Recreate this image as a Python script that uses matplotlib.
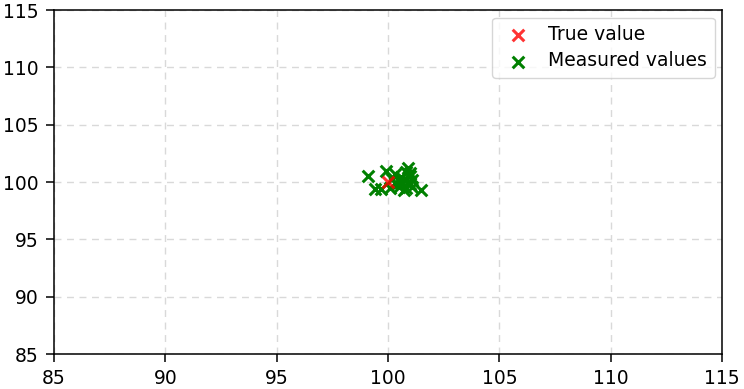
import matplotlib
matplotlib.use("Agg")
import matplotlib.pyplot as plt

true_x = [100.0]
true_y = [100.0]

meas_x = [99.1, 99.4, 99.9, 100.1, 100.3, 100.5, 100.5, 100.6, 100.7, 100.8,
          100.9, 101.0, 101.0, 101.1, 101.5, 100.4, 100.9, 100.2, 101.1, 100.6,
          99.7, 100.8, 100.3, 101.0]
meas_y = [100.5, 99.4, 101.0, 99.5, 100.7, 100.2, 99.6, 100.4, 99.3, 100.9,
          101.2, 100.5, 99.8, 99.6, 99.3, 99.8, 100.0, 100.3, 100.2, 99.9,
          99.4, 99.5, 99.9, 100.8]

x_ticks = [85, 90, 95, 100, 105, 110, 115]
y_ticks = [85, 90, 95, 100, 105, 110, 115]

fig = plt.figure(figsize=(7.44, 3.89), dpi=100)
ax = fig.add_axes([54 / 744, 1 - 354 / 389, (722 - 54) / 744, (354 - 10) / 389])

ax.scatter(meas_x, meas_y, marker='x', color='green', s=70, linewidths=2.2,
           label='Measured values', zorder=3)
ax.scatter(true_x, true_y, marker='x', color='red', s=70, linewidths=2.2,
           alpha=0.8, label='True value', zorder=4)

ax.set_xlim(85, 115)
ax.set_ylim(85, 115)
ax.set_xticks(x_ticks)
ax.set_yticks(y_ticks)
ax.tick_params(labelsize=13.5, length=6, width=1.1, pad=5)
for s in ax.spines.values():
    s.set_linewidth(1.1)
ax.grid(True, linestyle=(0, (5, 4)), color='#d9d9d9', linewidth=1.0)
ax.set_axisbelow(True)
ax.set_title('High accuracy and high precision', fontsize=16, pad=10.4)

handles, labels = ax.get_legend_handles_labels()
ax.legend(handles[::-1], labels[::-1], loc='upper right', fontsize=13.5,
          borderaxespad=0.4, labelspacing=0.4, handletextpad=0.6)

fig.savefig('out.png', dpi=100)
